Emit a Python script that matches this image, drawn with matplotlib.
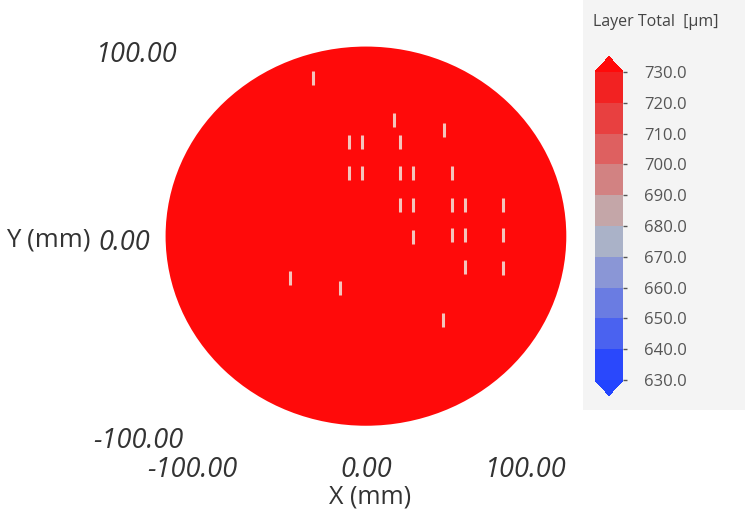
import matplotlib
matplotlib.use("Agg")
import matplotlib.pyplot as plt
import numpy as np
from matplotlib.colors import ListedColormap, BoundaryNorm
from matplotlib.patches import Ellipse, Rectangle
import matplotlib.transforms as mtransforms

# wafer outline (mm)
wafer_center = (0.0, 3.0)
wafer_width = 252.0
wafer_height = 197.0
wafer_value = 735.0  # all above the top level -> red

# small measurement marks (mm)
mark_x = [-33.3, 17.6, 49.1, -10.7, -2.5, 21.4, -10.7, -2.5, 21.4, 29.6, 54.1,
          21.4, 29.6, 54.1, 62.3, 86.2, 29.6, 54.1, 62.3, 86.2, 62.3, 86.2,
          -47.8, -16.4, 48.4]
mark_y = [85.2, 63.4, 58.2, 51.9, 51.9, 51.9, 35.8, 35.8, 35.8, 35.8, 35.8,
          19.2, 19.2, 19.2, 19.2, 19.2, 2.6, 3.6, 3.6, 3.6, -13.0, -13.5,
          -18.7, -23.9, -40.5]

levels = [630, 640, 650, 660, 670, 680, 690, 700, 710, 720, 730]
level_colors = ["#2a48fc", "#4a62f0", "#6a7ce2", "#8a96d6", "#aab2c8",
                "#c4a6a8", "#d28282", "#de6060", "#e84040", "#f22222"]
under_color = "#2244ff"
over_color = "#ff0a0a"

xticks = [-100, 0, 100]
yticks = [-100, 0, 100]
tick_labels = ["-100.00", "0.00", "100.00"]

W, H = 745, 520
fig = plt.figure(figsize=(W / 100, H / 100), dpi=100)

# legend panel background
fig.add_artist(Rectangle((583 / W, 110 / H), 162 / W, 410 / H, transform=fig.transFigure,
                         facecolor="#f4f4f4", edgecolor="none", zorder=0))

ax = fig.add_axes([150 / W, 70 / H, 440 / W, 420 / H])
ax.set_facecolor("none")
for s in ax.spines.values():
    s.set_visible(False)

cmap = ListedColormap(level_colors)
cmap.set_under(under_color)
cmap.set_over(over_color)
norm = BoundaryNorm(levels, cmap.N)

ax.add_patch(Ellipse(wafer_center, wafer_width, wafer_height,
                     facecolor=cmap(norm(wafer_value)), edgecolor="none"))
ax.plot(mark_x, mark_y, linestyle="none", marker="|", markersize=10,
        markeredgewidth=2.2, color="#f4c4bc")

ax.set_xlim(-135.8, 140.9)
ax.set_ylim(-108.1, 110.1)

tick_font = dict(family=["Open Sans", "DejaVu Sans"], style="italic", size=19.5)
ax.set_xticks(xticks)
ax.set_xticklabels(tick_labels, color="#333333", **tick_font)
ax.set_yticks(yticks)
ax.set_yticklabels(tick_labels, color="#333333", **tick_font)
ax.tick_params(axis="x", length=0, pad=4)
ax.tick_params(axis="y", length=0, pad=0)

# nudge labels like the original screenshot
x_shift = [-15, 0, 0]
for lab, dx in zip(ax.get_xticklabels(), x_shift):
    lab.set_transform(lab.get_transform() + mtransforms.ScaledTranslation(dx / 100, 0, fig.dpi_scale_trans))
y_shift = [(33, -3), (0, 2), (27, -2)]
for lab, (dx, dy) in zip(ax.get_yticklabels(), y_shift):
    lab.set_transform(lab.get_transform() + mtransforms.ScaledTranslation(dx / 100, dy / 100, fig.dpi_scale_trans))

ax.set_xlabel("X (mm)", color="#333333", family=["Open Sans", "DejaVu Sans"], size=18, labelpad=1)
ax.set_ylabel("Y (mm)", color="#333333", family=["Open Sans", "DejaVu Sans"], size=18.5,
              rotation=0, ha="right", va="center")
ax.yaxis.set_label_coords(-0.136, 0.5)

# colorbar (axes height includes the two arrow ends)
cax = fig.add_axes([595 / W, 124.6 / H, 28 / W, 338.8 / H])
sm = plt.cm.ScalarMappable(cmap=cmap, norm=norm)
cb = fig.colorbar(sm, cax=cax, extend="both", extendfrac=0.05, ticks=levels)
cb.outline.set_visible(False)
cb.set_ticklabels([f"{v:.1f}" for v in levels])
cax.tick_params(length=3, width=1, color="#555555", labelsize=12, labelcolor="#555555", pad=12)
for t in cax.get_yticklabels():
    t.set_family(["Open Sans", "DejaVu Sans"])
fig.text(593 / W, 1 - 22 / H, "Layer Total  [µm]", ha="left", va="center",
         fontsize=11.5, color="#444444", family=["Open Sans", "DejaVu Sans"])

fig.savefig("out.png", dpi=100)
